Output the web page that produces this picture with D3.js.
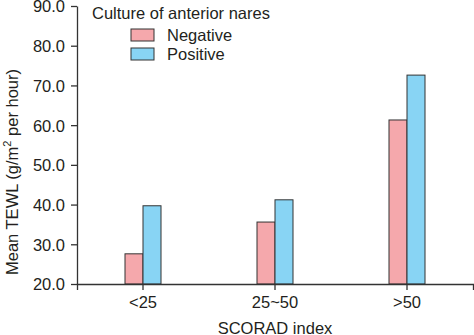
<!DOCTYPE html>
<html><head><meta charset="utf-8">
<script src="https://cdn.jsdelivr.net/npm/d3@7"></script>
<style>body{margin:0;background:#fff}text{font-family:"Liberation Sans",Arial,sans-serif;fill:#231f20}</style>
</head><body><svg id="c" width="474" height="335"></svg>
<script>
const categories = ["<25", "25~50", ">50"];
const seriesNames = ["Negative", "Positive"];
const negative = [27.6, 35.6, 61.3];
const positive = [39.7, 41.2, 72.6];
const yTicks = [20, 30, 40, 50, 60, 70, 80, 90];
const colors = ["#f5a8ac", "#88d4f4"];

const svg = d3.select("#c");
const fs = 16.5;
const x = d3.scaleBand().domain(categories).range([77, 473]).padding(0);
const y = d3.scaleLinear().domain([20, 90]).range([284, 6]);
const barW = 18;

// y axis
const ya = svg.append("g").attr("transform", "translate(77,0)")
  .call(d3.axisLeft(y).tickValues(yTicks).tickFormat(d3.format(".1f")).tickSize(6).tickSizeOuter(0));
ya.select(".domain").attr("stroke", "#333").attr("stroke-width", 1.3);
ya.selectAll(".tick line").attr("stroke", "#333").attr("stroke-width", 1.3);
ya.selectAll(".tick text").attr("font-size", fs).attr("x", -12).attr("dy", "0.36em")
  .style("font-family", "Liberation Sans, Arial, sans-serif").attr("fill", "#231f20");

// bars
const data = categories.map((c, i) => ({c, vals: [negative[i], positive[i]]}));
const g = svg.append("g");
data.forEach(d => {
  d.vals.forEach((v, j) => {
    const cx = x(d.c) + x.bandwidth() / 2;
    g.append("rect")
      .attr("x", cx - barW + j * barW)
      .attr("y", y(v))
      .attr("width", barW)
      .attr("height", y(20) - y(v))
      .attr("fill", colors[j])
      .attr("stroke", "#333").attr("stroke-width", 1);
  });
});

// x axis
const xa = svg.append("g").attr("transform", "translate(0,284)")
  .call(d3.axisBottom(x).tickSize(6).tickSizeOuter(6));
xa.select(".domain").attr("stroke", "#333").attr("stroke-width", 1.3);
xa.selectAll(".tick line").attr("stroke", "#333").attr("stroke-width", 1.3);
xa.selectAll(".tick text").attr("font-size", fs).attr("y", 12.5)
  .style("font-family", "Liberation Sans, Arial, sans-serif").attr("fill", "#231f20");

// axis titles
svg.append("text").attr("x", 275).attr("y", 333.5).attr("text-anchor", "middle")
  .attr("font-size", fs).text("SCORAD index");
const yt = svg.append("text").attr("transform", "translate(18,172) rotate(-90)")
  .attr("text-anchor", "middle").attr("font-size", fs);
yt.append("tspan").text("Mean TEWL (g/m");
yt.append("tspan").attr("dy", -7).attr("font-size", 11).text("2");
yt.append("tspan").attr("dy", 7).text(" per hour)");

// legend
svg.append("text").attr("x", 92).attr("y", 18.5).attr("font-size", fs).text("Culture of anterior nares");
seriesNames.forEach((s, i) => {
  const yy = 29 + i * 19;
  svg.append("rect").attr("x", 131).attr("y", yy).attr("width", 23).attr("height", 12)
    .attr("fill", colors[i]).attr("stroke", "#333").attr("stroke-width", 1);
  svg.append("text").attr("x", 167).attr("y", yy + 12).attr("font-size", fs).text(s);
});
</script></body></html>
